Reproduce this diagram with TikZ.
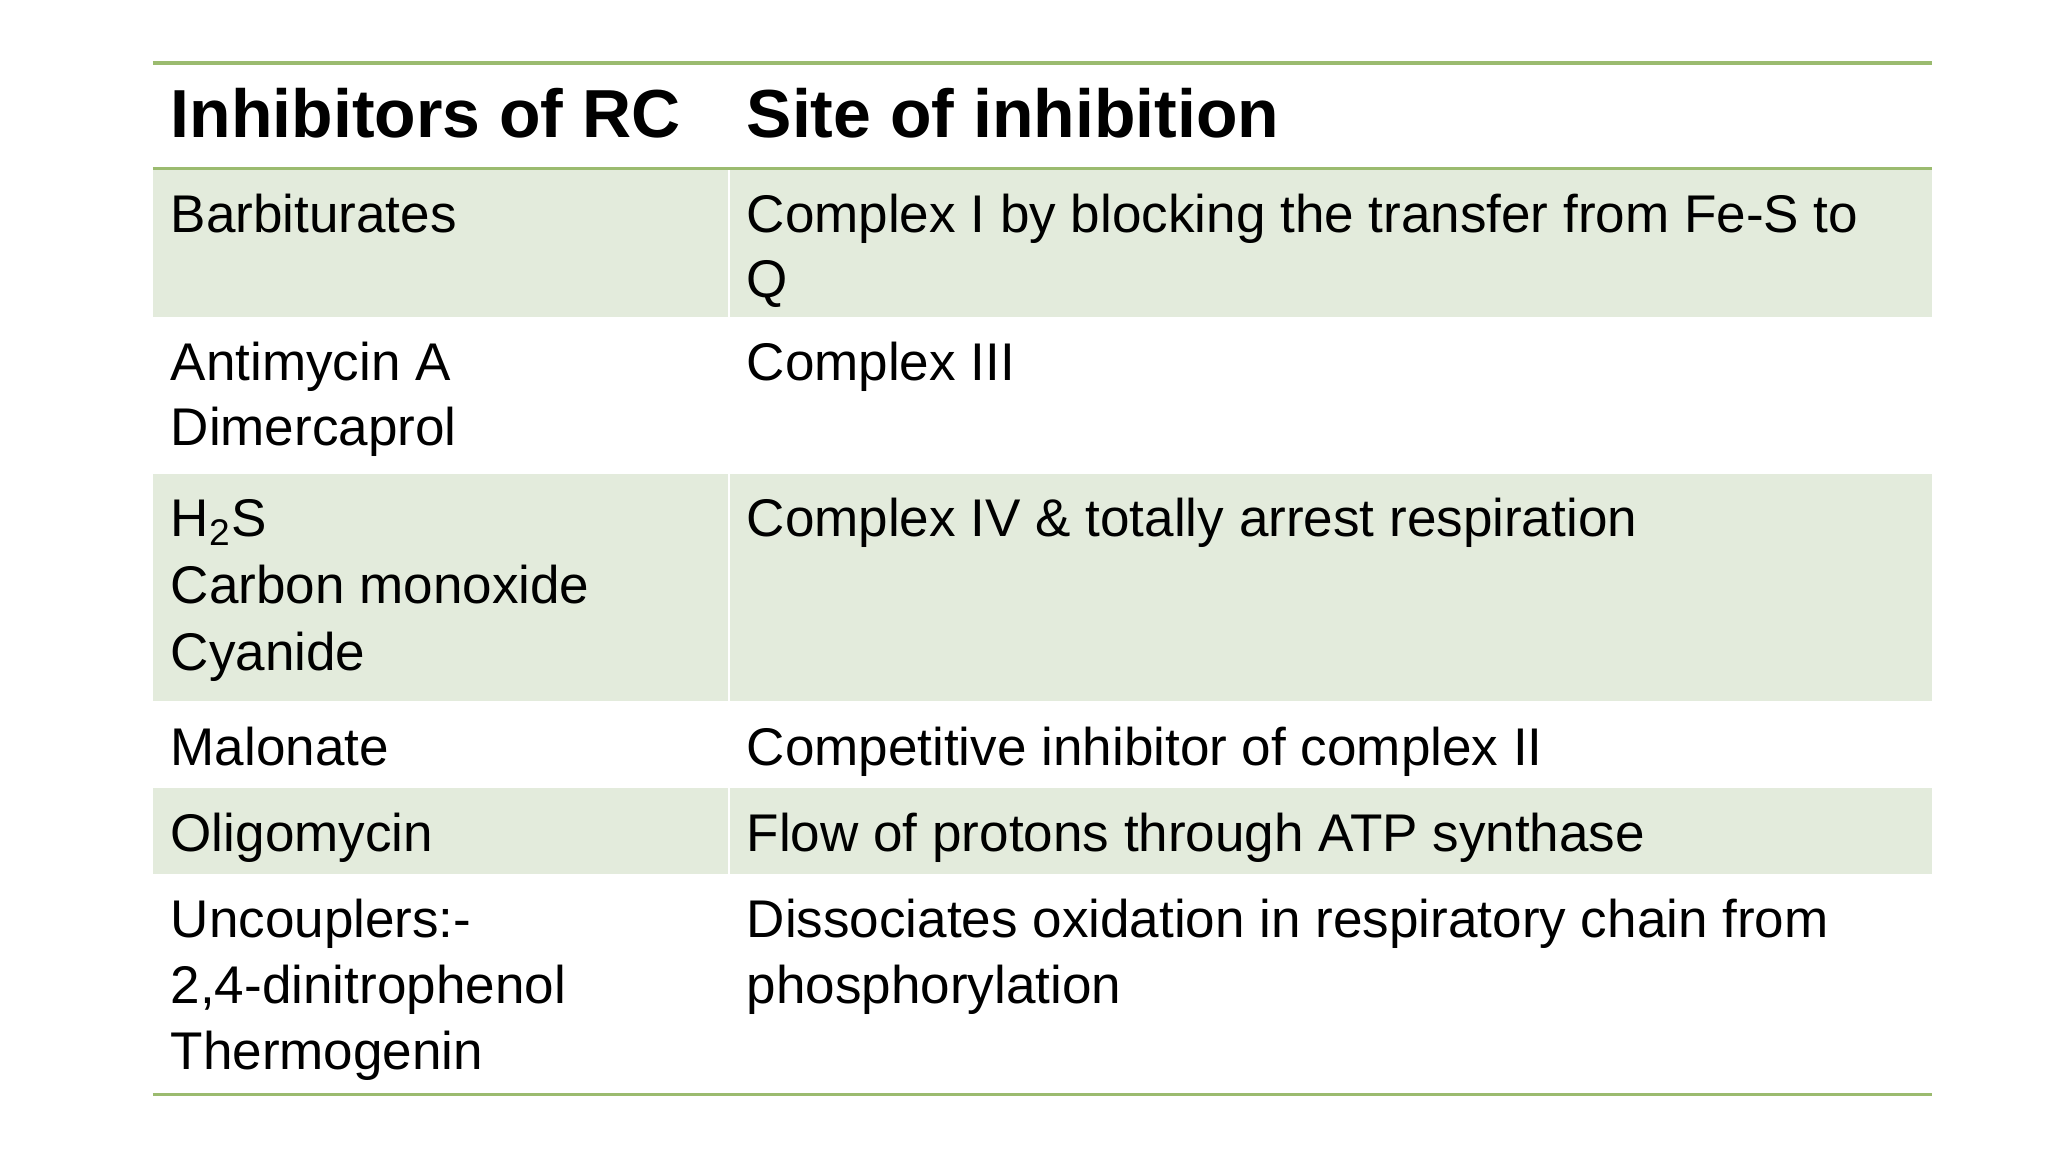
\documentclass[tikz,border=0pt]{standalone}
\usepackage{fontspec}
\setmainfont{Liberation Sans}
\definecolor{bandc}{HTML}{E3EBDC}
\definecolor{rulec}{HTML}{9BBB6F}
\begin{document}
\begin{tikzpicture}[x=0.01cm,y=-0.01cm,
  cell/.style={anchor=base west,inner sep=0pt,font=\fontsize{11.55pt}{13pt}\selectfont},
  head/.style={anchor=base west,inner sep=0pt,font=\fontsize{14.8pt}{16pt}\selectfont\bfseries},
  band/.style={fill=bandc,draw=none},
  rule/.style={draw=rulec,line width=0.8pt}]
\useasboundingbox (0,0) rectangle (1568,882);
\fill[white] (0,0) rectangle (1568,882);
\foreach \a/\b in {129/243,363/537,603/669}{
  \path[band] (117,\a) rectangle (557,\b);
  \path[band] (559,\a) rectangle (1479,\b);}
\draw[rule] (117,48) -- (1479,48);
\draw[rule] (117,129) -- (1479,129);
\draw[rule] (117,838) -- (1479,838);
\node[head] (h1) at (130,105) {Inhibitors of RC};
\node[head] (h2) at (571,105) {Site of inhibition};
\node[cell] (a1) at (130,178) {Barbiturates};
\node[cell] (b1) at (571,178) {Complex I by blocking the transfer from Fe-S to};
\node[cell] (b1q) at (571,228) {Q};
\node[cell] (a2) at (130,291) {Antimycin A};
\node[cell] (a2b) at (130,341) {Dimercaprol};
\node[cell] (b2) at (571,291) {Complex III};
\node[cell] (a3) at (130,411) {H\textsubscript{2}S};
\node[cell] (a3b) at (130,462) {Carbon monoxide};
\node[cell] (a3c) at (130,513) {Cyanide};
\node[cell] (b3) at (571,411) {Complex IV \& totally arrest respiration};
\node[cell] (a4) at (130,586) {Malonate};
\node[cell] (b4) at (571,586) {Competitive inhibitor of complex II};
\node[cell] (a5) at (130,652) {Oligomycin};
\node[cell] (b5) at (571,652) {Flow of protons through ATP synthase};
\node[cell] (a6) at (130,718) {Uncouplers:-};
\node[cell] (a6b) at (130,768) {2,4-dinitrophenol};
\node[cell] (a6c) at (130,819) {Thermogenin};
\node[cell] (b6) at (571,718) {Dissociates oxidation in respiratory chain from};
\node[cell] (b6b) at (571,768) {phosphorylation};
\end{tikzpicture}
\end{document}
